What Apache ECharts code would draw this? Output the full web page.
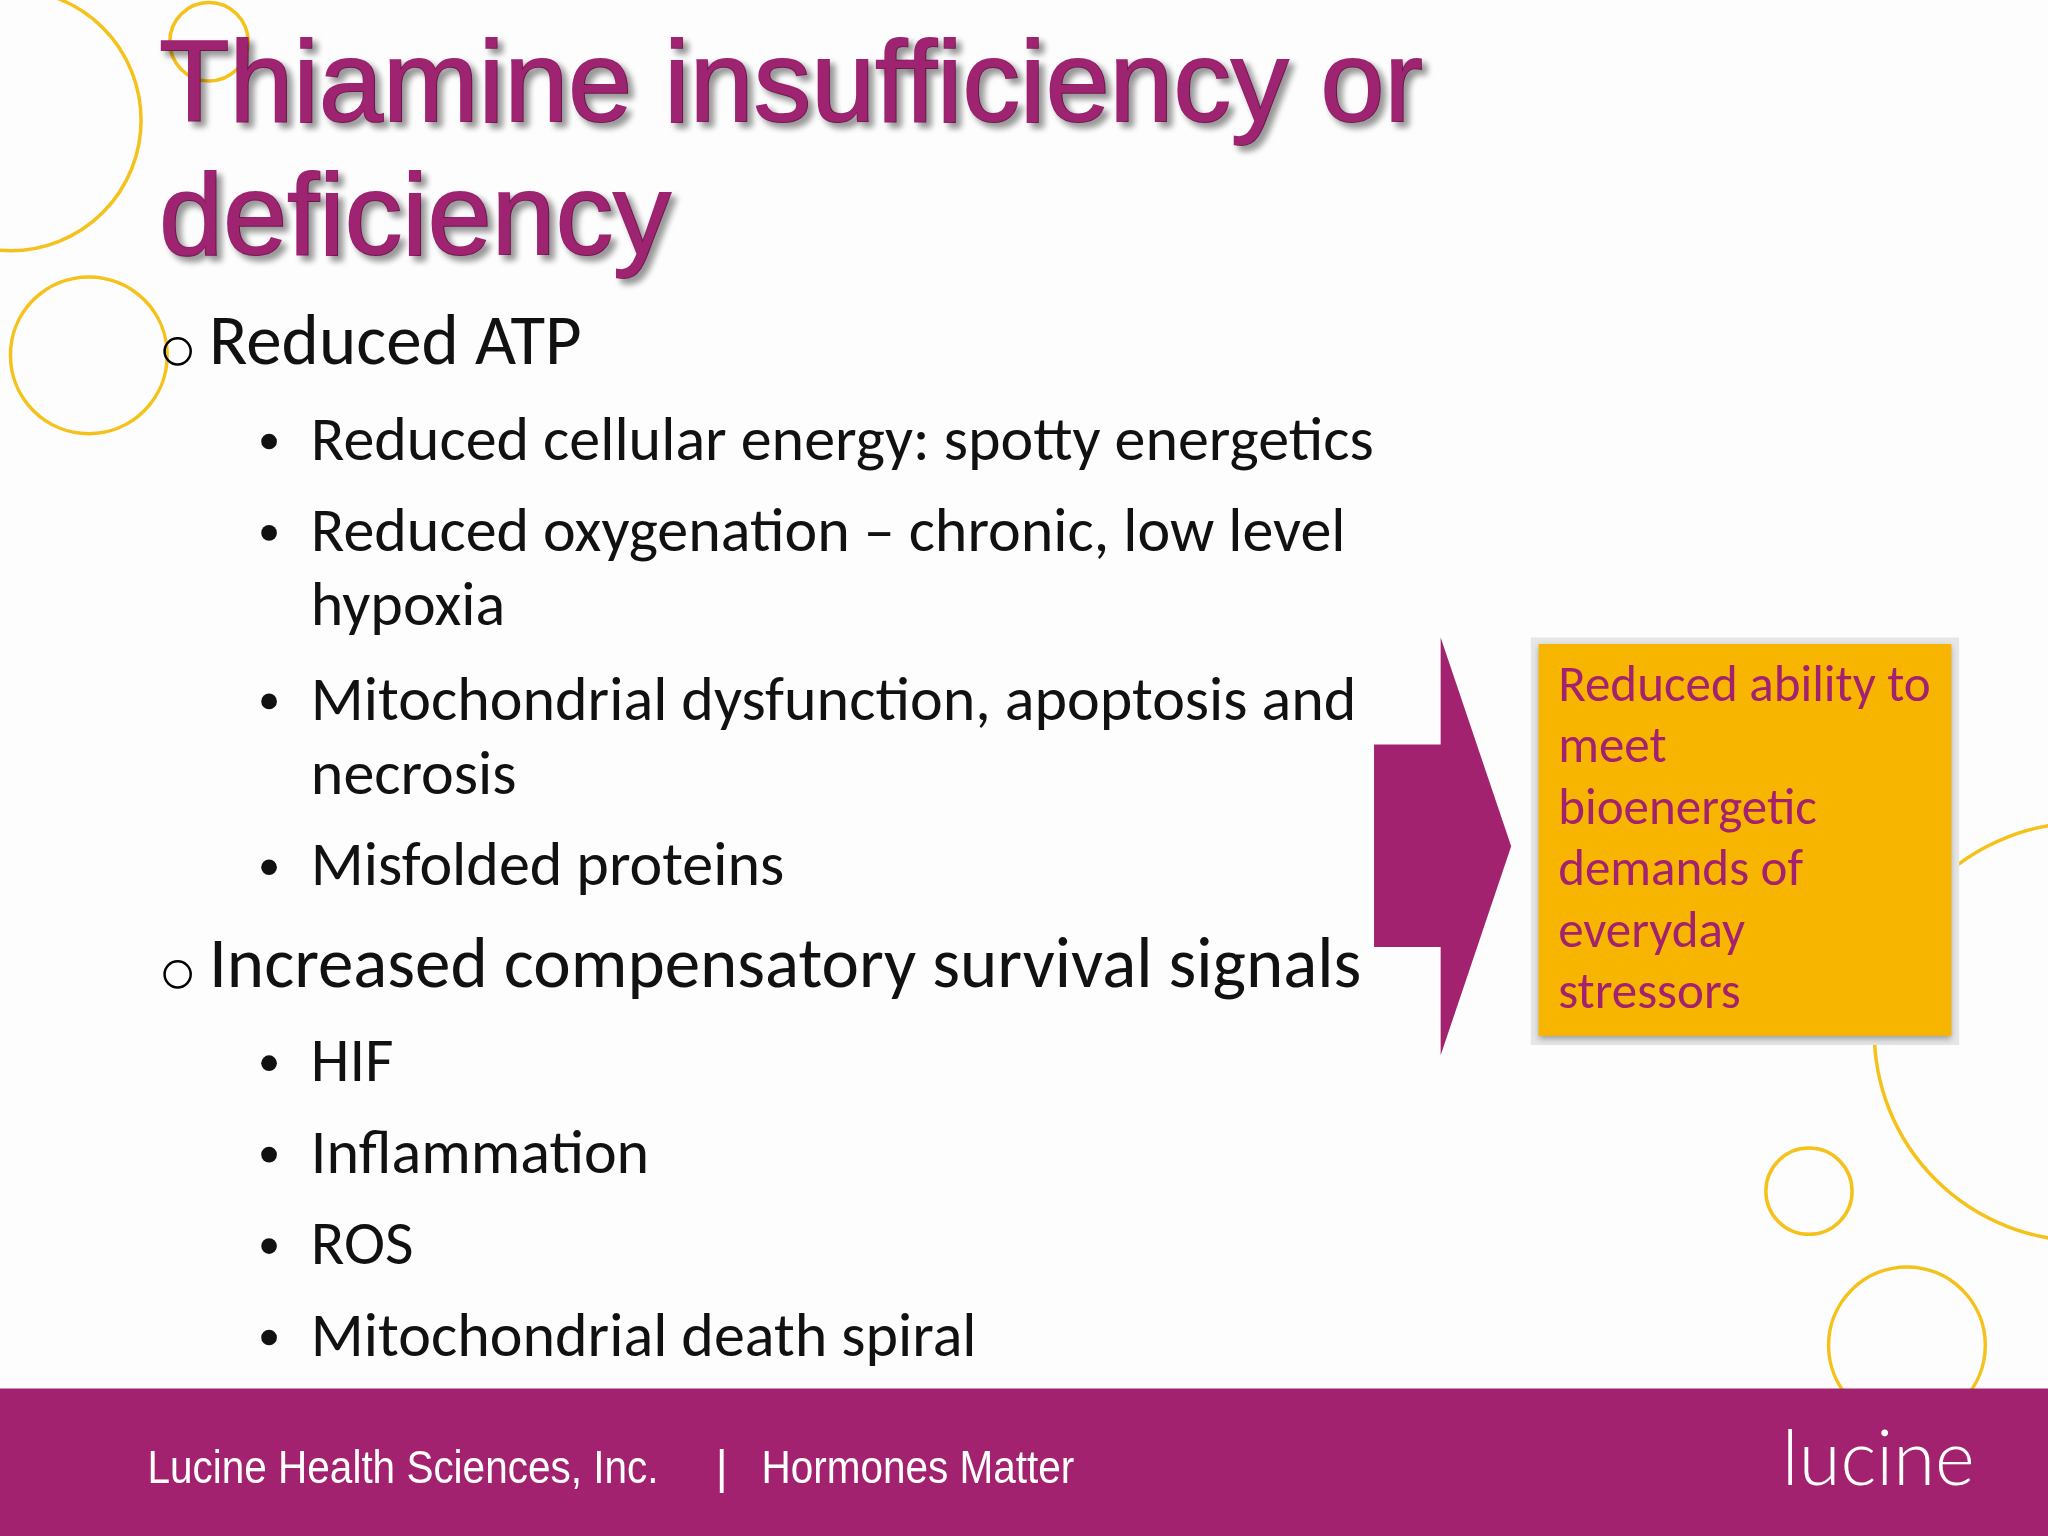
<!DOCTYPE html>
<html><head><meta charset="utf-8">
<script src="https://cdn.jsdelivr.net/npm/echarts@6/dist/echarts.min.js"></script>
<style>html,body{margin:0;padding:0;background:#fdfdfd}#c{width:2048px;height:1536px}</style>
</head><body><div id="c"></div>
<script>
const titleLines = ["Thiamine insufficiency or", "deficiency"];
const level1 = ["Reduced ATP", "Increased compensatory survival signals"];
const bullets = [
  {lines:["Reduced cellular energy: spotty energetics"], y:338},
  {lines:["Reduced oxygenation \u2013 chronic, low level","hypoxia"], y:408},
  {lines:["Mitochondrial dysfunction, apoptosis and","necrosis"], y:537},
  {lines:["Misfolded proteins"], y:664},
  {lines:["HIF"], y:814},
  {lines:["Inflammation"], y:884},
  {lines:["ROS"], y:954},
  {lines:["Mitochondrial death spiral"], y:1024}
];
const level1Y = [265, 742];
const boxLines = ["Reduced ability to","meet","bioenergetic","demands of","everyday","stressors"];
const footerLeft = "Lucine Health Sciences, Inc.";
const footerRight = "Hormones Matter";
const logoText = "lucine";

const s = 2048/1568;
const P = '#a3226f', Y = '#f5c21b';
const g = [];
g.push({type:'rect',shape:{x:0,y:0,width:2048,height:1536},style:{fill:'#fdfdfd'},z:0});
const circles = [[8,92,100],[160,32,30],[68,272,60],[1595,790,160],[1385,912,33],[1460,1030,60]];
circles.forEach(c=>g.push({type:'circle',shape:{cx:c[0]*s,cy:c[1]*s,r:c[2]*s},style:{fill:'none',stroke:Y,lineWidth:3.5},z:1}));
// footer
g.push({type:'rect',shape:{x:0,y:1063*s,width:2048,height:(1176-1063)*s},style:{fill:P},z:5});
const ff = '46px "Liberation Sans",sans-serif';
g.push({type:'text',x:113*s,y:1126*s,scaleX:0.88,originX:0,style:{text:footerLeft,fill:'#fff',font:ff,textVerticalAlign:'middle'},z:6});
g.push({type:'text',x:548*s,y:1126*s,style:{text:'|',fill:'#fff',font:ff,textVerticalAlign:'middle'},z:6});
g.push({type:'text',x:583*s,y:1126*s,scaleX:0.88,originX:0,style:{text:footerRight,fill:'#fff',font:ff,textVerticalAlign:'middle'},z:6});
g.push({type:'text',x:1438*s,y:1118*s,style:{text:logoText,fill:'#fff',font:'300 76px Lato,sans-serif',textAlign:'center',textVerticalAlign:'middle'},z:6});
// title
titleLines.forEach((t,i)=>g.push({type:'text',x:122*s,y:(68+i*102)*s,style:{text:t,fill:'#9e2471',font:'115px "Liberation Sans",Arial,sans-serif',textVerticalAlign:'middle',lineWidth:2,stroke:'#9e2471',textShadowColor:'rgba(0,0,0,0.4)',textShadowBlur:6,textShadowOffsetX:5,textShadowOffsetY:5},z:4}));
// level1
level1.forEach((t,i)=>{
  g.push({type:'circle',shape:{cx:136*s,cy:(level1Y[i]+4)*s,r:10*s},style:{fill:'none',stroke:'#000',lineWidth:2.5},z:4});
  g.push({type:'text',x:160*s,y:level1Y[i]*s,style:{text:t,fill:'#111',font:'71px Carlito,Lato,"Open Sans",sans-serif',textVerticalAlign:'middle'},z:4});
});
bullets.forEach(b=>{
  g.push({type:'circle',shape:{cx:206*s,cy:b.y*s,r:6*s},style:{fill:'#111'},z:4});
  b.lines.forEach((l,j)=>g.push({type:'text',x:238*s,y:(b.y+2+j*57)*s,style:{text:l,fill:'#111',font:'62px Carlito,Lato,"Open Sans",sans-serif',textVerticalAlign:'middle'},z:4}));
});
// arrow
g.push({type:'polygon',shape:{points:[[1052,570],[1103,570],[1103,488],[1157,648],[1103,808],[1103,725],[1052,725]].map(p=>[p[0]*s,p[1]*s])},style:{fill:P},z:3});
// box
g.push({type:'rect',shape:{x:1172*s,y:488*s,width:328*s,height:312*s},style:{fill:'#e6e6e6'},z:3});
g.push({type:'rect',shape:{x:1178*s,y:493*s,width:316*s,height:300*s},style:{fill:'#f7b500',shadowColor:'rgba(0,0,0,0.3)',shadowBlur:6,shadowOffsetY:3},z:4});
boxLines.forEach((t,i)=>g.push({type:'text',x:1193*s,y:(527+i*47)*s,style:{text:t,fill:'#a3226f',font:'51px Carlito,Lato,"Open Sans",sans-serif',textVerticalAlign:'middle'},z:5}));
const chart = echarts.init(document.getElementById('c'));
chart.setOption({animation:false,graphic:{elements:g}});
</script></body></html>
